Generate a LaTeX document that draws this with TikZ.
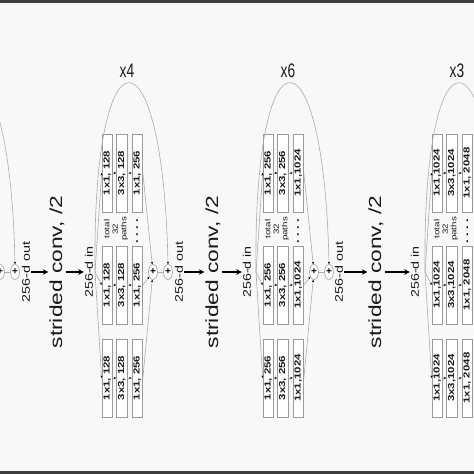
\documentclass[tikz,border=0pt]{standalone}
\usepackage{fontspec}
\setmainfont{Liberation Sans}
\usetikzlibrary{shapes.geometric,arrows.meta}
\newcommand{\rtx}[1]{\rotatebox{90}{\scalebox{1.3}[1]{#1}}}
\newcommand{\fs}[1]{\fontsize{#1}{#1}\selectfont}
\definecolor{bgc}{HTML}{F8F8F8}
\definecolor{lnc}{HTML}{ABABAB}
\definecolor{bxc}{HTML}{9A9A9A}
\definecolor{barc}{HTML}{3C3C3C}
\definecolor{txc}{HTML}{1A1A1A}
\begin{document}
\begin{tikzpicture}[x=1pt,y=-1pt,
  convbox/.style={draw=bxc,fill=white,line width=0.7pt,minimum width=10.5pt,minimum height=78pt,inner sep=0pt,font=\fs{8.8}\bfseries,text=txc},
  plusnode/.style={ellipse,draw=lnc,fill=white,line width=0.7pt,minimum width=9pt,minimum height=15pt,inner sep=0pt,font=\fs{10}\bfseries},
  wire/.style={draw=lnc,line width=0.6pt},
  tinytip/.style={-{Stealth[length=2.4pt,width=2.2pt,color=black]}},
  bigarrow/.style={draw=black,line width=1.1pt,-{Stealth[length=5.5pt,width=5.5pt]}},
  lbl/.style={inner sep=1pt,text=txc}
]
\useasboundingbox (0,0) rectangle (474,474);
\fill[bgc] (0,0) rectangle (474,474);
\begin{scope}
\clip (0,0) rectangle (474,474);

\newcommand{\blk}[6]{%
  \coordinate (s#1) at (#2-7,272);
  \foreach \r/\yy in {1/173,2/285,3/378}{%
    \node[convbox] (b#1\r a) at (#2+5.25,\yy) {\rtx{#3}};
    \node[convbox] (b#1\r b) at (#2+19.75,\yy) {\rtx{#4}};
    \node[convbox] (b#1\r c) at (#2+35.25,\yy) {\rtx{#5}};
    \draw[wire,tinytip] (s#1) -- (b#1\r a.west);
    \draw[wire,tinytip] (b#1\r a.east) -- (b#1\r b.west);
    \draw[wire,tinytip] (b#1\r b.east) -- (b#1\r c.west);
  }
  \node[rotate=90,align=center,font=\fontsize{7.5}{8.5}\selectfont,inner sep=0pt,text=txc] (tot#1) at (#2+14,229)
    {\scalebox{1.3}[1]{total}\\\scalebox{1.3}[1]{32}\\\scalebox{1.3}[1]{paths}};
  \node[inner sep=0pt,font=\fs{10}\bfseries] (dots#1) at (#2+35.25,231) {\rtx{.\hspace{2.5pt}.\hspace{2.5pt}.\hspace{2.5pt}.}};
  \node[font=\fs{14.5},inner sep=0pt,text=txc] (rep#1) at (#2+25,71) {\scalebox{0.95}[1.35]{#6}};
}
\newcommand{\agg}[2]{%
  \node[plusnode] (p#1) at (#2+51,272) {+};
  \node[plusnode] (q#1) at (#2+66,272) {+};
  \draw[wire] (p#1) -- (q#1);
  \draw[wire,tinytip] (s#1) .. controls (#2-10,21) and (#2+61,21) .. (q#1.north);
}
\newcommand{\outs}[1]{%
  \foreach \r in {1,2,3}{\draw[wire,tinytip] (b#1\r c.east) -- (p#1);}
}
\newcommand{\trn}[4]{%
  \node[lbl,font=\fs{11}] (o#1) at (#2,272) {\rtx{256-d out}};
  \node[lbl,font=\fs{17.5}] (st#1) at (#3,272) {\rtx{strided conv, /2}};
  \node[lbl,font=\fs{11}] (i#1) at (#4,272) {\rtx{256-d in}};
  \draw[bigarrow] (o#1) -- (st#1);
  \draw[bigarrow] (st#1) -- (i#1);
}

% group 0 (partly visible)
\coordinate (s0) at (-58,272);
\agg{0}{-51}

% group 1
\blk{1}{102}{1x1, 128}{3x3, 128}{1x1, 256}{x4}
\agg{1}{102}
\outs{1}

% group 2
\blk{2}{263}{1x1, 256}{3x3, 256}{1x1,1024}{x6}
\agg{2}{263}
\outs{2}

% group 3 (cut at right)
\blk{3}{432}{1x1,1024}{3x3,1024}{1x1, 2048}{x3}
\coordinate (q3) at (498,264);
\draw[wire] (s3) .. controls (422,21) and (493,21) .. (q3);

% transitions
\trn{1}{26}{57}{89}
\trn{2}{179}{213}{247}
\trn{3}{339}{376}{415}
\end{scope}
\fill[barc] (0,0) rectangle (474,2.7);
\fill[barc] (0,471.2) rectangle (474,474);
\end{tikzpicture}
\end{document}
